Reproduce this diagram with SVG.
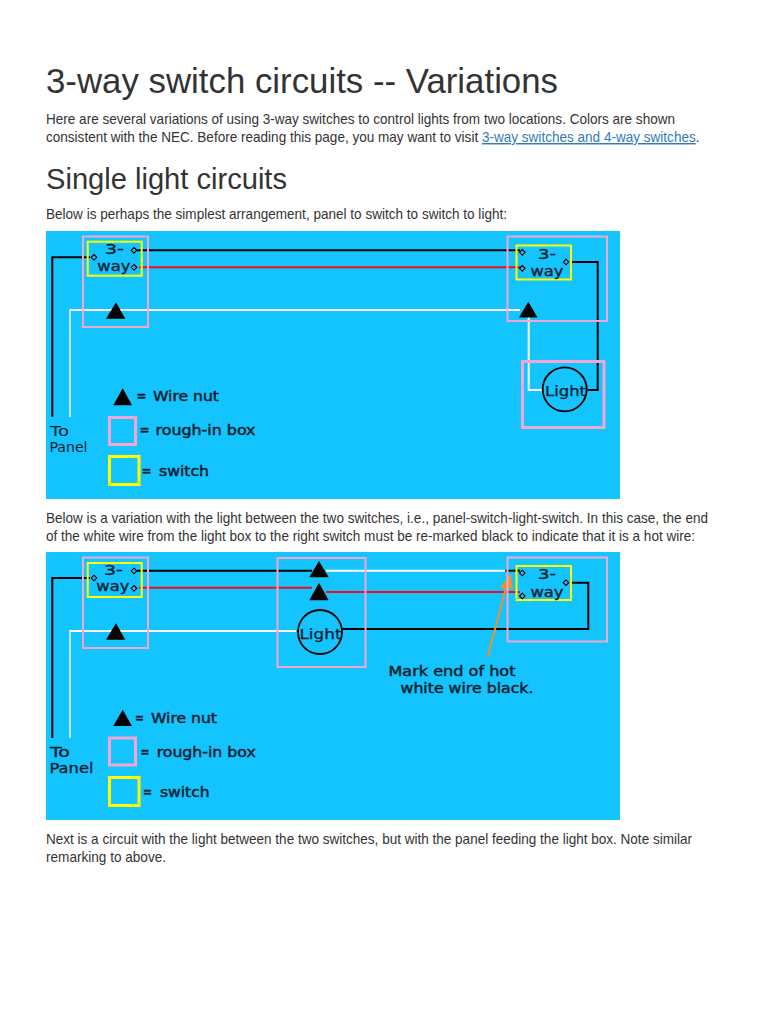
<svg xmlns="http://www.w3.org/2000/svg" width="768" height="1024" viewBox="0 0 768 1024">
<style>
text{font-family:"Liberation Sans",Arial,sans-serif;fill:#333}
.p{font-size:14.4px}
.lbl{font-family:"DejaVu Sans",Verdana,sans-serif;fill:#03202c;font-size:14px}
.sw{font-size:13.5px;stroke:#03202c;stroke-width:.35}
.b{font-size:13.5px;stroke:#03202c;stroke-width:.45}
.pink{fill:none;stroke:#f4a6d2;stroke-width:2}
.pink3{fill:none;stroke:#f4a6d2;stroke-width:3}
.yel{fill:none;stroke:#ffff00;stroke-width:2}
.yel3{fill:none;stroke:#ffff00;stroke-width:3}
.w{fill:none;stroke-width:2;stroke-linejoin:miter}
.thin{fill:none;stroke:#fff;stroke-width:1.4}
.k{stroke:#000}.wh{stroke:#fff}.r{stroke:#fa0a14}
.term{fill:#13c4ff;stroke:#000;stroke-width:1.1}
.nut{fill:#000}
.circ{fill:none;stroke:#000;stroke-width:1.8}
</style>
<defs><path id="tm" d="M0 -2.8L2.8 0L0 2.8L-2.8 0Z"/></defs>
<g id="page-text">
<text x="46" y="93" font-size="34.6" textLength="512" lengthAdjust="spacingAndGlyphs">3-way switch circuits -- Variations</text>
<text class="p" x="46" y="124" textLength="629" lengthAdjust="spacingAndGlyphs">Here are several variations of using 3-way switches to control lights from two locations. Colors are shown</text>
<text class="p" x="46" y="142" textLength="653.5" lengthAdjust="spacingAndGlyphs">consistent with the NEC. Before reading this page, you may want to visit <tspan style="fill:#337ab7;text-decoration:underline">3-way switches and 4-way switches</tspan>.</text>
<text x="46" y="189" font-size="29" textLength="241" lengthAdjust="spacingAndGlyphs">Single light circuits</text>
<text class="p" x="46" y="219" textLength="461" lengthAdjust="spacingAndGlyphs">Below is perhaps the simplest arrangement, panel to switch to switch to light:</text>
<text class="p" x="46" y="523" textLength="662" lengthAdjust="spacingAndGlyphs">Below is a variation with the light between the two switches, i.e., panel-switch-light-switch. In this case, the end</text>
<text class="p" x="46" y="541" textLength="649" lengthAdjust="spacingAndGlyphs">of the white wire from the light box to the right switch must be re-marked black to indicate that it is a hot wire:</text>
<text class="p" x="46" y="844" textLength="646" lengthAdjust="spacingAndGlyphs">Next is a circuit with the light between the two switches, but with the panel feeding the light box. Note similar</text>
<text class="p" x="46" y="862" textLength="120" lengthAdjust="spacingAndGlyphs">remarking to above.</text>
</g>
<rect id="diagram1-bg" x="46" y="231" width="574" height="268" fill="#13c4ff"/>
<rect id="diagram2-bg" x="46" y="552" width="574" height="268" fill="#13c4ff"/>
<g id="connectors1">
<path class="w k" d="M52.3 416.7V257.3H90"/>
<path class="thin" d="M70 417V310"/>
<path class="w wh" d="M69.5 310H520"/>
<path class="w k" d="M137 250.3H520"/>
<path class="w r" d="M139 267.3H520"/>
<path class="w k" d="M571.7 262H597.7V390H588"/>
<path class="w wh" d="M528.7 317V390H542"/>
</g>
<g id="connectors2">
<path class="w k" d="M52.3 738V578H90"/>
<path class="thin" d="M70 738V631"/>
<path class="w wh" d="M69.5 631H296"/>
<path class="w k" d="M137 570.7H312"/>
<path class="w r" d="M139 587.7H312"/>
<path class="w wh" d="M326 570.7H505.3"/>
<path class="w k" d="M505.3 570.7H520"/>
<path class="w r" d="M326 592H520"/>
<path class="w k" d="M342 629H588.3V582.7H572"/>
<path fill="none" stroke="#f0902a" stroke-width="2" d="M487.7 656.7L507 584"/>
<path fill="#f0902a" d="M510.7 573.3L513 589L500 588Z"/>
</g>
<g id="box1-left">
<rect class="pink" x="83" y="236.5" width="65" height="90.5"/>
<rect class="yel" x="87.7" y="241.7" width="54" height="34"/>
<text class="lbl sw" x="105" y="254" textLength="19" lengthAdjust="spacingAndGlyphs">3-</text>
<text class="lbl sw" x="97.3" y="270.5" textLength="33" lengthAdjust="spacingAndGlyphs">way</text>
<use href="#tm" class="term" x="94" y="257.3"/><use href="#tm" class="term" x="134" y="250.3"/><use href="#tm" class="term" x="134" y="267.3"/>
<path class="nut" d="M116 302.3L125.3 318.7H106Z"/>
</g>
<g id="box1-right">
<rect class="pink" x="507.5" y="236.5" width="99.5" height="84.5"/>
<rect class="yel" x="516.5" y="245.5" width="54.5" height="34"/>
<text class="lbl sw" x="538" y="258.5" textLength="18" lengthAdjust="spacingAndGlyphs">3-</text>
<text class="lbl sw" x="530.5" y="276" textLength="33" lengthAdjust="spacingAndGlyphs">way</text>
<use href="#tm" class="term" x="522.3" y="252.3"/><use href="#tm" class="term" x="522.3" y="268.3"/><use href="#tm" class="term" x="566" y="262"/>
<path class="nut" d="M528.3 301.7L537.5 317.5H519Z"/>
</g>
<g id="light1">
<rect class="pink3" x="522.5" y="361.5" width="81.5" height="66"/>
<circle class="circ" cx="564.7" cy="389.3" r="22"/>
<text class="lbl" x="545" y="396" font-size="15" stroke="#03202c" stroke-width=".25" textLength="41" lengthAdjust="spacingAndGlyphs">Light</text>
</g>
<g id="legend1">
<path class="nut" d="M122.7 388.3L132 405.3H113.3Z"/>
<text class="lbl b" x="136.5" y="400.7" textLength="10" lengthAdjust="spacingAndGlyphs">=</text>
<text class="lbl b" x="153" y="400.7" textLength="66" lengthAdjust="spacingAndGlyphs">Wire nut</text>
<rect class="pink3" x="109.5" y="417.5" width="26" height="27"/>
<text class="lbl b" x="139.5" y="435" textLength="10" lengthAdjust="spacingAndGlyphs">=</text>
<text class="lbl b" x="155.5" y="435" textLength="100" lengthAdjust="spacingAndGlyphs">rough-in box</text>
<rect class="yel3" x="109.5" y="456.5" width="29.5" height="28"/>
<text class="lbl b" x="141.5" y="475.7" textLength="10" lengthAdjust="spacingAndGlyphs">=</text>
<text class="lbl b" x="159" y="475.7" textLength="50" lengthAdjust="spacingAndGlyphs">switch</text>
<text class="lbl" x="50" y="436" textLength="19" lengthAdjust="spacingAndGlyphs">To</text>
<text class="lbl" x="49.5" y="452" font-size="13" textLength="38" lengthAdjust="spacingAndGlyphs">Panel</text>
</g>
<g id="box2-left">
<rect class="pink" x="83" y="557.5" width="65" height="90.5"/>
<rect class="yel" x="87.7" y="563" width="54" height="34"/>
<text class="lbl sw" x="104" y="575" textLength="19" lengthAdjust="spacingAndGlyphs">3-</text>
<text class="lbl sw" x="96.3" y="591" textLength="33" lengthAdjust="spacingAndGlyphs">way</text>
<use href="#tm" class="term" x="94" y="578"/><use href="#tm" class="term" x="134" y="571"/><use href="#tm" class="term" x="134" y="588.3"/>
<path class="nut" d="M116 623.3L125.3 639.7H106Z"/>
</g>
<g id="box2-center">
<rect class="pink" x="277.5" y="558" width="88" height="109"/>
<path class="nut" d="M319 561L328.7 577.3H309.3Z"/>
<path class="nut" d="M319 582.7L328.7 600.3H309.3Z"/>
<circle class="circ" cx="320" cy="632" r="22"/>
<text class="lbl" x="299.5" y="638.5" font-size="15" stroke="#03202c" stroke-width=".25" textLength="42" lengthAdjust="spacingAndGlyphs">Light</text>
</g>
<g id="box2-right">
<rect class="pink" x="507.5" y="557.5" width="99.5" height="84"/>
<rect class="yel" x="516.5" y="566" width="54.5" height="34"/>
<text class="lbl sw" x="538" y="579" textLength="18" lengthAdjust="spacingAndGlyphs">3-</text>
<text class="lbl sw" x="530.5" y="596.7" textLength="33" lengthAdjust="spacingAndGlyphs">way</text>
<use href="#tm" class="term" x="522.3" y="573"/><use href="#tm" class="term" x="522.3" y="596"/><use href="#tm" class="term" x="566" y="582.7"/>
</g>
<g id="legend2">
<text class="lbl b" x="388.5" y="675.7" textLength="127" lengthAdjust="spacingAndGlyphs">Mark end of hot</text>
<text class="lbl b" x="400.5" y="692.5" textLength="133" lengthAdjust="spacingAndGlyphs">white wire black.</text>
<path class="nut" d="M122.7 709.7L132 726H113.3Z"/>
<text class="lbl b" x="135" y="722.7" textLength="9" lengthAdjust="spacingAndGlyphs">=</text>
<text class="lbl b" x="151" y="722.7" textLength="66" lengthAdjust="spacingAndGlyphs">Wire nut</text>
<rect class="pink3" x="109.5" y="738" width="26" height="27"/>
<text class="lbl b" x="140.5" y="757.3" textLength="9" lengthAdjust="spacingAndGlyphs">=</text>
<text class="lbl b" x="156.7" y="757.3" textLength="99" lengthAdjust="spacingAndGlyphs">rough-in box</text>
<rect class="yel3" x="109.5" y="777.5" width="29.5" height="28"/>
<text class="lbl b" x="143" y="797.3" textLength="9" lengthAdjust="spacingAndGlyphs">=</text>
<text class="lbl b" x="160" y="797.3" textLength="49.5" lengthAdjust="spacingAndGlyphs">switch</text>
<text class="lbl" x="50" y="757" font-size="15" stroke="#03202c" stroke-width=".3" textLength="20" lengthAdjust="spacingAndGlyphs">To</text>
<text class="lbl" x="49.5" y="773" font-size="15" stroke="#03202c" stroke-width=".3" textLength="44" lengthAdjust="spacingAndGlyphs">Panel</text>
</g>
</svg>
